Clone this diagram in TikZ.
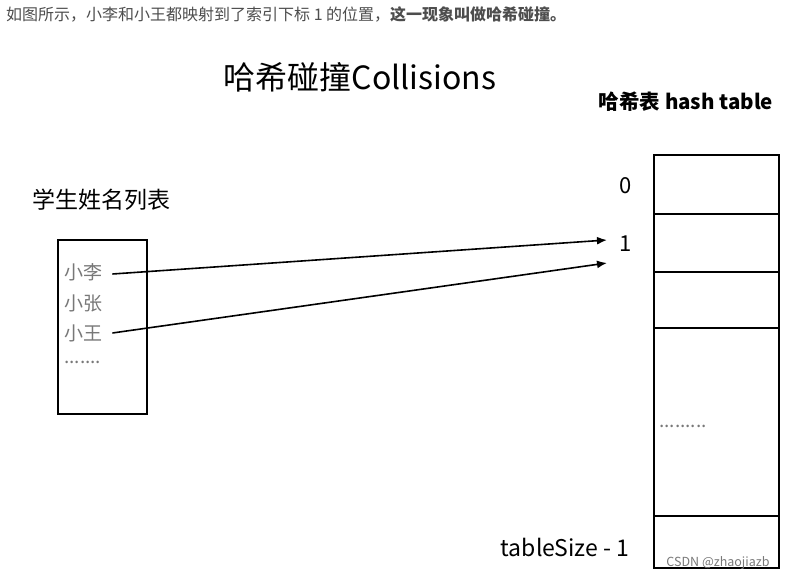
\documentclass[tikz,border=0pt]{standalone}
\usepackage{fontspec}
\setmainfont{Noto Sans CJK SC}
\usetikzlibrary{arrows.meta}
\definecolor{itemgray}{RGB}{120,120,120}
\definecolor{topgray}{RGB}{77,77,77}
\begin{document}
\begin{tikzpicture}[x=1pt,y=-1pt]
    \tikzset{every node/.style={inner sep=0pt},
      cell/.style={draw,line width=1.2pt},
      item/.style={font=\fontsize{19}{22}\selectfont,text=itemgray},
      link/.style={line width=1.6pt,-{Latex[length=10pt,width=8pt]}}}
    \useasboundingbox (0,0) rectangle (790,581);
    \node[anchor=west,font=\fontsize{16}{18}\selectfont,text=topgray] (intro) at (6,14)
      {如图所示，小李和小王都映射到了索引下标 1 的位置，\textbf{这一现象叫做哈希碰撞。}};
    \node[font=\fontsize{32}{36}\selectfont] (title) at (360,77) {哈希碰撞Collisions};
    \node[font=\bfseries\fontsize{20.5}{24}\selectfont] (tabtitle) at (686,102) {哈希表 hash table};
    % hash table
    \draw[cell] (654,155) rectangle (779,568);
    \foreach \y in {214,272,328,516}
      \draw[cell] (654,\y) -- (779,\y);
    \node[font=\fontsize{22}{26}\selectfont] (idx0) at (626,186) {0};
    \node[font=\fontsize{22}{26}\selectfont,anchor=west] (idx1) at (619,244) {1};
    \node[font=\fontsize{23}{26}\selectfont] (idxn) at (565,547) {tableSize - 1};
    \node[item,anchor=west] (tdots) at (659,426) {.........};
    % student list
    \node[font=\fontsize{23}{26}\selectfont] (listtitle) at (101,200) {学生姓名列表};
    \draw[cell] (58,240) rectangle (147,414);
    \node[item,anchor=west] (li) at (64,272) {小李};
    \node[item,anchor=west] (zhang) at (64,303) {小张};
    \node[item,anchor=west] (wang) at (64,333) {小王};
    \node[item,anchor=west] (ldots) at (64,362) {.......};
    \coordinate (hit1) at (607,240);
    \coordinate (hit2) at (607,263);
    \draw[link] (li.east) ++(10,2) -- (hit1);
    \draw[link] (wang.east) ++(10,0) -- (hit2);
    \node[font=\fontsize{12.5}{15}\selectfont,text=itemgray] (mark) at (718,563) {CSDN @zhaojiazb};
\end{tikzpicture}
\end{document}
